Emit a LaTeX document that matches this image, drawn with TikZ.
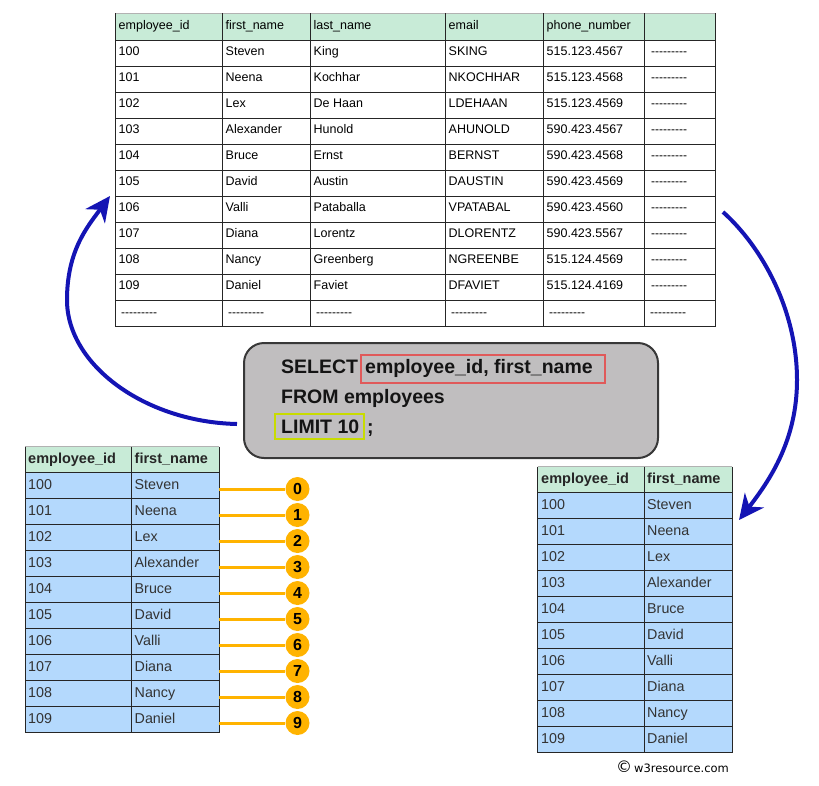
\documentclass[tikz,border=0pt]{standalone}
\usepackage{fontspec}
\setmainfont{Liberation Sans}
\newfontfamily\djv{DejaVu Sans}
\usetikzlibrary{arrows.meta}
\definecolor{hdrgreen}{HTML}{C8EBD7}
\definecolor{rowblue}{HTML}{B4D9FD}
\definecolor{amber}{HTML}{FFB300}
\definecolor{sqlgray}{HTML}{C0BEBF}
\definecolor{arrowblue}{HTML}{1414B4}
\definecolor{redbox}{HTML}{E05A5A}
\definecolor{limebox}{HTML}{C8DC00}
\definecolor{txtgray}{HTML}{333333}
\newcommand{\dsh}{-{}-{}-{}-{}-{}-{}-{}-{}-}
\begin{document}
\begin{tikzpicture}[x=1pt,y=-1pt,
  toptxt/.style={anchor=base west, inner sep=0pt, font=\fontsize{12.5}{14}\selectfont},
  dshtxt/.style={anchor=base west, inner sep=0pt, font=\fontsize{12}{14}\selectfont},
  bottxt/.style={anchor=base west, inner sep=0pt, font=\fontsize{14.3}{16}\selectfont, text=txtgray},
  bothdr/.style={anchor=base west, inner sep=0pt, font=\bfseries\fontsize{14.5}{16}\selectfont, text=black!85},
  sqltxt/.style={anchor=base west, inner sep=0pt, font=\bfseries\fontsize{19.5}{22}\selectfont, text=black!92},
  grid/.style={line width=0.9pt, black!85},
  circ/.style={circle, fill=amber, inner sep=0pt, minimum size=24pt, font=\bfseries\fontsize{16}{16}\selectfont},
  conn/.style={amber, line width=3pt},
  bluearrow/.style={arrowblue, line width=4pt, -{Stealth[length=25pt,width=24pt,inset=8pt]}}
]
\useasboundingbox (0,0) rectangle (819,785);

% ---------------- top table ----------------
\fill[hdrgreen] (115,13) rectangle (715,40.7);
\draw[black!30] (115,13) -- (715,13);
\foreach \k in {0,...,11} \draw[grid] (115,{40.7+26*\k}) -- (715,{40.7+26*\k});
\foreach \xx in {115,222,310,445,543,644,715} \draw[grid] (\xx,13) -- (\xx,326.7);
\foreach \xx/\t [count=\i] in {115/employee\_id,222/first\_name,310/last\_name,445/email,543/phone\_number}
  \node[toptxt] (th\i) at (\xx+3.5,29.5) {\t};
\foreach \a/\b/\c/\d/\e [count=\i] in {
  100/Steven/King/SKING/515.123.4567,
  101/Neena/Kochhar/NKOCHHAR/515.123.4568,
  102/Lex/De Haan/LDEHAAN/515.123.4569,
  103/Alexander/Hunold/AHUNOLD/590.423.4567,
  104/Bruce/Ernst/BERNST/590.423.4568,
  105/David/Austin/DAUSTIN/590.423.4569,
  106/Valli/Pataballa/VPATABAL/590.423.4560,
  107/Diana/Lorentz/DLORENTZ/590.423.5567,
  108/Nancy/Greenberg/NGREENBE/515.124.4569,
  109/Daniel/Faviet/DFAVIET/515.124.4169}{
  \pgfmathsetmacro\yy{40.7+26*(\i-1)+15}
  \node[toptxt] (ta\i) at (118.5,\yy) {\a};
  \node[toptxt] (tb\i) at (225.5,\yy) {\b};
  \node[toptxt] (tc\i) at (313.5,\yy) {\c};
  \node[toptxt] (td\i) at (448.5,\yy) {\d};
  \node[toptxt] (te\i) at (546.5,\yy) {\e};
  \node[dshtxt] (tf\i) at (651,\yy) {\dsh};
}
\foreach \xx [count=\i] in {115,222,310,445,543,644}
  \node[dshtxt] (tl\i) at (\xx+6,316) {\dsh};

% ---------------- SQL box ----------------
\node[draw=black!78, line width=2pt, fill=sqlgray, rounded corners=20pt,
      minimum width=414pt, minimum height=115pt, anchor=north west, inner sep=0pt] (sql) at (243,342) {};
\node[draw=redbox, line width=1.6pt, minimum width=244pt, minimum height=28pt,
      anchor=north west, inner sep=0pt] (rbox) at (360,354) {};
\node[draw=limebox, line width=1.6pt, minimum width=89pt, minimum height=25pt,
      anchor=north west, inner sep=0pt] (ybox) at (274,413) {};
\node[sqltxt] (s1) at (281,373) {SELECT};
\node[sqltxt] (s2) at (365,373) {employee\_id, first\_name};
\node[sqltxt] (s3) at (281,403) {FROM employees};
\node[sqltxt] (s4) at (281,433) {LIMIT 10};
\node[sqltxt] (s5) at (367,433) {;};

% ---------------- left result table ----------------
\fill[hdrgreen] (25,446.5) rectangle (219,472.5);
\fill[rowblue] (25,472.5) rectangle (219,732.5);
\draw[black!30] (25,446.5) -- (219,446.5);
\foreach \k in {0,...,10} \draw[grid] (25,{472.5+26*\k}) -- (219,{472.5+26*\k});
\foreach \xx in {25,131.5,219} \draw[grid] (\xx,446.5) -- (\xx,732.5);
\node[bothdr] (lh1) at (28,463) {employee\_id};
\node[bothdr] (lh2) at (134.5,463) {first\_name};
\foreach \a/\b [count=\i] in {100/Steven,101/Neena,102/Lex,103/Alexander,104/Bruce,105/David,106/Valli,107/Diana,108/Nancy,109/Daniel}{
  \pgfmathsetmacro\yy{472.5+26*(\i-1)+16.5}
  \node[bottxt] (la\i) at (28,\yy) {\a};
  \node[bottxt] (lb\i) at (134.5,\yy) {\b};
}
\foreach \k in {0,...,9}{
  \node[circ] (c\k) at (297.5,{489+26*\k}) {\k};
  \coordinate (l\k) at (219,{489+26*\k});
  \draw[conn] (l\k) -- (c\k.west);
}

% ---------------- right result table ----------------
\fill[hdrgreen] (537.5,466.5) rectangle (732,492.5);
\fill[rowblue] (537.5,492.5) rectangle (732,752.5);
\draw[black!30] (537.5,466.5) -- (732,466.5);
\foreach \k in {0,...,10} \draw[grid] (537.5,{492.5+26*\k}) -- (732,{492.5+26*\k});
\foreach \xx in {537.5,644,732} \draw[grid] (\xx,466.5) -- (\xx,752.5);
\node[bothdr] (rh1) at (541,483) {employee\_id};
\node[bothdr] (rh2) at (647,483) {first\_name};
\foreach \a/\b [count=\i] in {100/Steven,101/Neena,102/Lex,103/Alexander,104/Bruce,105/David,106/Valli,107/Diana,108/Nancy,109/Daniel}{
  \pgfmathsetmacro\yy{492.5+26*(\i-1)+16.5}
  \node[bottxt] (ra\i) at (541,\yy) {\a};
  \node[bottxt] (rb\i) at (647,\yy) {\b};
}

% ---------------- arrows ----------------
\coordinate (a1s) at (237,424);
\coordinate (a1m) at (67,300);
\coordinate (a1e) at (110,196);
\draw[bluearrow] (a1s) .. controls (145,422) and (67,365) .. (a1m)
                       .. controls (67,250) and (88,226) .. (a1e);
\coordinate (a2s) at (723,212);
\coordinate (a2m) at (797,380);
\coordinate (a2e) at (739,520);
\draw[bluearrow] (a2s) .. controls (762,247) and (797,310) .. (a2m)
                       .. controls (797,440) and (770,480) .. (a2e);

% ---------------- copyright ----------------
\node[anchor=base east, inner sep=0pt, font=\djv\fontsize{11.5}{13}\selectfont] (copy) at (729,772)
  {{\fontsize{16}{16}\selectfont ©}\,w3resource.com};
\end{tikzpicture}
\end{document}
